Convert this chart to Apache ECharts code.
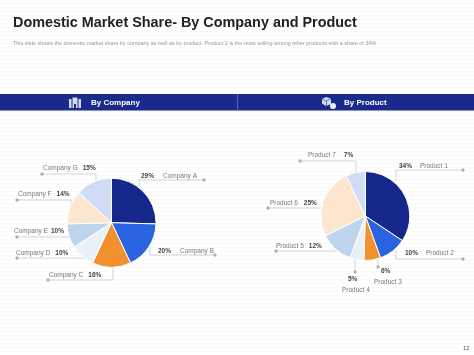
<!DOCTYPE html>
<html>
<head>
    <meta charset="UTF-8">
    <title>Domestic Market Share</title>
    <script src="https://cdn.jsdelivr.net/npm/echarts@6/dist/echarts.min.js"></script>
    <style>
        html, body { margin: 0; padding: 0; background: #fff; }
        #chart {
            width: 474px; height: 355px;
            background: repeating-linear-gradient(180deg, #fff 0, #fff 3px, #fafafa 3px, #fafafa 4px);
        }
    </style>
</head>
<body>
<div id="chart"></div>
<script type="text/javascript">
    var titleText = 'Domestic Market Share- By Company and Product';
    var subText = 'This slide shows the domestic market share by company as well as by product. Product 2 is the most selling among other products with a share of 34% .';

    var companies = ['Company A', 'Company B', 'Company C', 'Company D', 'Company E', 'Company F', 'Company G'];
    var companyShare = [29, 20, 16, 10, 10, 14, 15];
    var products = ['Product 1', 'Product 2', 'Product 3', 'Product 4', 'Product 5', 'Product 6', 'Product 7'];
    var productShare = [34, 10, 6, 5, 12, 25, 7];
    var sliceColors = ['#16278a', '#2a63e0', '#f0912e', '#e8f0f8', '#bcd5ec', '#fde6d0', '#d0dcf6'];

    // leader lines: slice end -> elbow -> dot, label x / y above the line
    var companyLeaders = [
        {line: [[139, 186], [139, 180], [204, 180]], x: 141, y: 176, pctFirst: true, gap: 9},
        {line: [[150, 246], [150, 255], [215, 255]], x: 158, y: 251, pctFirst: true, gap: 9},
        {line: [[113, 266], [113, 280], [48, 280]], x: 49, y: 275, gap: 5},
        {line: [[87, 258], [87, 258], [17, 258]], x: 16, y: 253, gap: 5},
        {line: [[75, 237], [75, 237], [17, 237]], x: 14, y: 231, gap: 3},
        {line: [[71, 210], [71, 200], [17, 200]], x: 18, y: 194, gap: 5},
        {line: [[96, 185], [96, 174], [42, 174]], x: 43, y: 168, gap: 5}
    ];
    var productLeaders = [
        {line: [[396, 181], [396, 170], [463, 170]], x: 399, y: 166, pctFirst: true, gap: 8},
        {line: [[396, 250], [396, 259], [463, 259]], x: 405, y: 253, pctFirst: true, gap: 8},
        {line: [[378, 258], [378, 258], [378, 267]], x: 374, y: 276, stacked: true, indent: 7},
        {line: [[355, 258], [355, 258], [355, 272]], x: 342, y: 284, stacked: true, indent: 6},
        {line: [[337, 251], [337, 251], [276, 251]], x: 276, y: 246, gap: 5},
        {line: [[325, 208], [325, 208], [268, 208]], x: 270, y: 203, gap: 6},
        {line: [[356, 175], [356, 161], [300, 161]], x: 308, y: 155, gap: 8}
    ];

    function makePie(names, values, leaders, center) {
        return {
            type: 'pie',
            radius: 44.5,
            center: center,
            startAngle: 90,
            animation: false,
            silent: true,
            avoidLabelOverlap: false,
            itemStyle: {borderColor: '#fff', borderWidth: 1},
            data: names.map(function (n, i) {
                return {name: n, value: values[i], itemStyle: {color: sliceColors[i]}};
            }),
            label: {
                show: true,
                position: 'outside',
                formatter: function (p) {
                    var l = leaders[p.dataIndex];
                    var pct = '{v|' + p.value + '%}';
                    var name = '{n|' + p.name + '}';
                    if (l.stacked) {
                        return '{i' + l.indent + '|}' + pct + '\n' + name;
                    }
                    var gap = '{g' + l.gap + '|}';
                    return l.pctFirst ? pct + gap + name : name + gap + pct;
                },
                rich: makeRich()
            },
            labelLine: {show: true, lineStyle: {color: '#c8c8c8', width: 0.8}},
            labelLayout: function (p) {
                var l = leaders[p.dataIndex];
                return {
                    x: l.x,
                    y: l.y,
                    align: 'left',
                    verticalAlign: 'middle',
                    labelLinePoints: l.line
                };
            }
        };
    }

    function makeRich() {
        var rich = {
            n: {fontSize: 6.5, color: '#777', fontFamily: 'Liberation Sans', lineHeight: 9},
            v: {fontSize: 6.5, color: '#444', fontWeight: 'bold', fontFamily: 'Liberation Sans', lineHeight: 9}
        };
        [3, 5, 6, 7, 8, 9].forEach(function (w) {
            rich['g' + w] = {width: w};
            rich['i' + w] = {width: w};
        });
        return rich;
    }

    function dots(leaders) {
        return leaders.map(function (l) {
            return {
                type: 'circle',
                z: 5,
                shape: {cx: l.line[2][0], cy: l.line[2][1], r: 1.7},
                style: {fill: '#b0b0b4'}
            };
        });
    }

    var iconFill = '#d5d9ec';
    var graphics = [
        {type: 'text', x: 13, y: 23.5, style: {text: titleText, fill: '#222', font: 'bold 14.4px "Liberation Sans"', textVerticalAlign: 'middle'}},
        {type: 'text', x: 13, y: 43, style: {text: subText, fill: '#999', font: '5.44px "Liberation Sans"', textVerticalAlign: 'middle'}},
        {type: 'rect', shape: {x: 0, y: 94, width: 474, height: 16.5}, style: {fill: '#1a2a8c'}},
        {type: 'rect', shape: {x: 237, y: 94, width: 0.7, height: 16.5}, style: {fill: '#6f7cc0'}},
        {type: 'text', x: 91, y: 103, style: {text: 'By Company', fill: '#fff', font: 'bold 8px "Liberation Sans"', textVerticalAlign: 'middle'}},
        {type: 'text', x: 344, y: 103, style: {text: 'By Product', fill: '#fff', font: 'bold 8px "Liberation Sans"', textVerticalAlign: 'middle'}},
        // building icon
        {type: 'rect', shape: {x: 69, y: 99, width: 2.5, height: 9}, style: {fill: iconFill}},
        {type: 'rect', shape: {x: 72.5, y: 97.5, width: 5, height: 10.5}, style: {fill: iconFill}},
        {type: 'rect', shape: {x: 74, y: 104, width: 2, height: 4}, style: {fill: '#1a2a8c'}},
        {type: 'rect', shape: {x: 78.5, y: 99, width: 2.5, height: 9}, style: {fill: iconFill}},
        // boxes icon
        {type: 'polygon', shape: {points: [[326, 97], [331, 98.5], [331, 104], [326, 106], [322, 103.5], [322, 99]]}, style: {fill: iconFill}},
        {type: 'polyline', shape: {points: [[322, 99], [326, 101], [331, 98.5]]}, style: {stroke: '#1a2a8c', lineWidth: 0.6, fill: null}},
        {type: 'rect', shape: {x: 326, y: 101, width: 0.6, height: 5}, style: {fill: '#1a2a8c'}},
        {type: 'circle', shape: {cx: 333, cy: 106, r: 3}, style: {fill: '#eef0f8'}},
        // page number
        {type: 'text', x: 463, y: 348, style: {text: '12', fill: '#555', font: '6px "Liberation Sans"', textVerticalAlign: 'middle'}}
    ].concat(dots(companyLeaders), dots(productLeaders));

    var option = {
        animation: false,
        graphic: graphics,
        series: [
            makePie(companies, companyShare, companyLeaders, [111.5, 222.7]),
            makePie(products, productShare, productLeaders, [365.3, 216])
        ]
    };
    var myChart = echarts.init(document.getElementById('chart'));
    myChart.setOption(option);
</script>
</body>
</html>
